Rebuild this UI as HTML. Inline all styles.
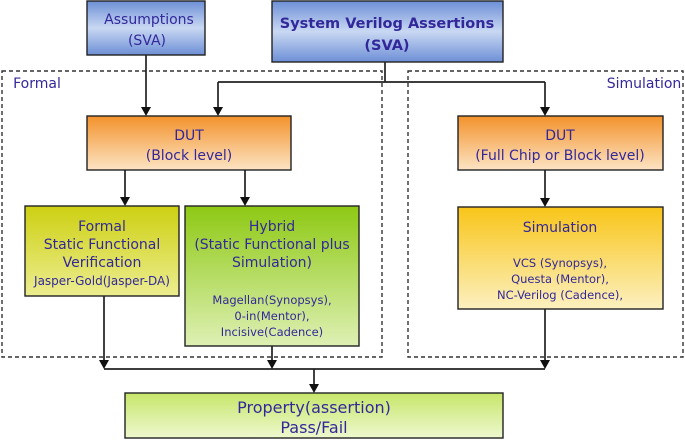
<!DOCTYPE html>
<html><head><style>
html,body{margin:0;padding:0;background:#fff;}
svg{display:block;}
text{font-family:"DejaVu Sans","Liberation Sans",sans-serif;fill:#33289a;text-anchor:middle;}
</style></head><body>
<svg width="685" height="441" viewBox="0 0 685 441" xmlns="http://www.w3.org/2000/svg">
<defs>
<linearGradient id="blue" x1="0" y1="0" x2="0" y2="1"><stop offset="0" stop-color="#6d8fd6"/><stop offset="0.5" stop-color="#c9d8f3"/><stop offset="1" stop-color="#6d8fd6"/></linearGradient>
<linearGradient id="orange" x1="0" y1="0" x2="0" y2="1"><stop offset="0" stop-color="#f3922c"/><stop offset="1" stop-color="#fce4c4"/></linearGradient>
<linearGradient id="olive" x1="0" y1="0" x2="0" y2="1"><stop offset="0" stop-color="#cdd012"/><stop offset="1" stop-color="#eced90"/></linearGradient>
<linearGradient id="green" x1="0" y1="0" x2="0" y2="1"><stop offset="0" stop-color="#8ec914"/><stop offset="1" stop-color="#def0b4"/></linearGradient>
<linearGradient id="yellow" x1="0" y1="0" x2="0" y2="1"><stop offset="0" stop-color="#f8c518"/><stop offset="1" stop-color="#fcf0c0"/></linearGradient>
<linearGradient id="lgreen" x1="0" y1="0" x2="0" y2="1"><stop offset="0" stop-color="#c7e66a"/><stop offset="1" stop-color="#eef8cf"/></linearGradient>
</defs>
<g fill="none" stroke="#333" stroke-width="1.4" stroke-dasharray="4,3">
<rect x="2" y="71" width="380" height="286"/>
<rect x="408" y="71" width="275" height="286"/>
</g>
<text x="37" y="88" style="font-size:14px">Formal</text>
<text x="644" y="88" style="font-size:14px">Simulation</text>
<g stroke="#222" stroke-width="1.7" fill="none">
<path d="M146 55V108"/><path d="M385 62V82M218 82H545M218 82V108M545 82V108"/>
<path d="M125 170V198M245 170V198M545 170V199"/>
<path d="M104 296V361M272 346V361M545 309V361M104 369H545M314 369V385"/>
</g>
<g fill="#111">
<path d="M141 107h10l-5 9z"/><path d="M213 107h10l-5 9z"/><path d="M540 107h10l-5 9z"/>
<path d="M120 197h10l-5 9z"/><path d="M240 197h10l-5 9z"/><path d="M540 198h10l-5 9z"/>
<path d="M99 360h10l-5 9z"/><path d="M267 360h10l-5 9z"/><path d="M540 360h10l-5 9z"/><path d="M309 384h10l-5 9z"/>
</g>
<g stroke="#222" stroke-width="1.4">
<rect x="87" y="1" width="118" height="54" fill="url(#blue)"/>
<rect x="272" y="1" width="231" height="61" fill="url(#blue)"/>
<rect x="87" y="116" width="204" height="54" fill="url(#orange)"/>
<rect x="458" y="116" width="205" height="54" fill="url(#orange)"/>
<rect x="25" y="206" width="154" height="90" fill="url(#olive)"/>
<rect x="185" y="206" width="174" height="140" fill="url(#green)"/>
<rect x="458" y="207" width="205" height="102" fill="url(#yellow)"/>
<rect x="125" y="393" width="378" height="45" fill="url(#lgreen)"/>
</g>
<text x="149" y="24" style="font-size:14px">Assumptions</text>
<text x="147" y="45" style="font-size:14px">(SVA)</text>
<text x="387" y="28" style="font-size:14.5px;font-weight:bold">System Verilog Assertions</text>
<text x="387" y="50" style="font-size:14.5px;font-weight:bold">(SVA)</text>
<text x="189" y="140" style="font-size:14px">DUT</text>
<text x="189" y="160" style="font-size:14px">(Block level)</text>
<text x="560" y="140" style="font-size:14px">DUT</text>
<text x="560" y="160" style="font-size:14px">(Full Chip or Block level)</text>
<text x="102" y="231" style="font-size:14px">Formal</text>
<text x="102" y="249" style="font-size:14px">Static Functional</text>
<text x="102" y="267" style="font-size:14px">Verification</text>
<text x="102" y="285" style="font-size:12px">Jasper-Gold(Jasper-DA)</text>
<text x="272" y="231" style="font-size:14px">Hybrid</text>
<text x="272" y="249" style="font-size:14px">(Static Functional plus</text>
<text x="272" y="267" style="font-size:14px">Simulation)</text>
<text x="272" y="304" style="font-size:11.5px">Magellan(Synopsys),</text>
<text x="272" y="320" style="font-size:11.5px">0-in(Mentor),</text>
<text x="272" y="336" style="font-size:11.5px">Incisive(Cadence)</text>
<text x="560" y="232" style="font-size:14px">Simulation</text>
<text x="560" y="267" style="font-size:11.5px">VCS (Synopsys),</text>
<text x="560" y="283" style="font-size:11.5px">Questa (Mentor),</text>
<text x="560" y="299" style="font-size:11.5px">NC-Verilog (Cadence),</text>
<text x="314" y="413" style="font-size:16px">Property(assertion)</text>
<text x="314" y="433" style="font-size:16px">Pass/Fail</text>
</svg>
</body></html>
